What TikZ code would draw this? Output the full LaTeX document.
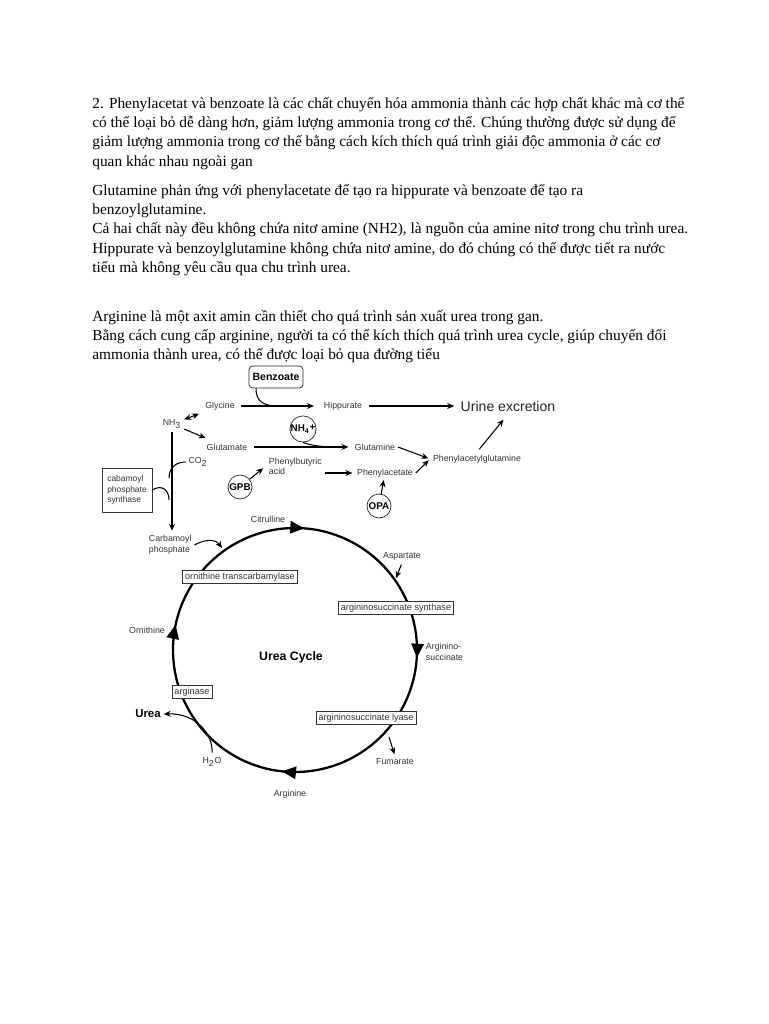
\documentclass[tikz,border=0pt]{standalone}
\usepackage{fontspec}
\setmainfont{Liberation Serif}
\setsansfont{Liberation Sans}
\usetikzlibrary{arrows.meta,decorations.markings}

\begin{document}
\begin{tikzpicture}[x=0.02cm, y=-0.02cm,
    every node/.style={font=\sffamily\fontsize{5}{6}\selectfont, text=black!80, inner sep=1.5pt},
    bodytext/.style={font=\rmfamily\fontsize{8.75}{10.95}\selectfont, text=black, anchor=north west, align=left, inner sep=0pt},
    enzbox/.style={draw=black!80, fill=white, inner sep=1.4pt, font=\sffamily\fontsize{5.2}{6}\selectfont},
    drugcirc/.style={draw=black!85, circle, minimum size=0.48cm, inner sep=0pt, text=black, font=\sffamily\bfseries\fontsize{5.6}{6}\selectfont},
    flowarrow/.style={-{Stealth[length=4pt,width=3.4pt]}, semithick},
    cyclepath/.style={line width=1.3pt, postaction=decorate, decoration={markings,
        mark=at position 0.026 with {\arrow{Triangle[length=8pt,width=7pt]}},
        mark=at position 0.274 with {\arrow{Triangle[length=8pt,width=7pt]}},
        mark=at position 0.531 with {\arrow{Triangle[length=8pt,width=7pt]}},
        mark=at position 0.797 with {\arrow{Triangle[length=8pt,width=7pt]}}}},
]
\useasboundingbox[fill=white] (0,0) rectangle (768,1024);

% Text above the picture
\node[bodytext] (para1) at (92,97) {2. Phenylacetat và benzoate là các chất chuyển hóa ammonia thành các hợp chất khác mà cơ thể\\
có thể loại bỏ dễ dàng hơn, giảm lượng ammonia trong cơ thể. Chúng thường được sử dụng để\\
giảm lượng ammonia trong cơ thể bằng cách kích thích quá trình giải độc ammonia ở các cơ\\
quan khác nhau ngoài gan};
\node[bodytext] (para2) at (92,184) {Glutamine phản ứng với phenylacetate để tạo ra hippurate và benzoate để tạo ra\\
benzoylglutamine.\\
Cả hai chất này đều không chứa nitơ amine (NH2), là nguồn của amine nitơ trong chu trình urea.\\
Hippurate và benzoylglutamine không chứa nitơ amine, do đó chúng có thể được tiết ra nước\\
tiểu mà không yêu cầu qua chu trình urea.};
\node[bodytext] (para3) at (92,310) {Arginine là một axit amin cần thiết cho quá trình sản xuất urea trong gan.\\
Bằng cách cung cấp arginine, người ta có thể kích thích quá trình urea cycle, giúp chuyển đổi\\
ammonia thành urea, có thể được loại bỏ qua đường tiểu};

% Top pathway
\node[draw=black!85, rounded corners=2pt, minimum width=1.08cm, minimum height=0.44cm, text=black, font=\sffamily\bfseries\fontsize{6}{7}\selectfont] (benz) at (276,377) {Benzoate};
\node (nh3) at (172,424) {NH\textsubscript{3}};
\node (gly) at (220,406) {Glycine};
\node (glu) at (227,447) {Glutamate};
\node (hip) at (343,406) {Hippurate};
\node[font=\sffamily\fontsize{8}{9}\selectfont, text=black!85] (urine) at (508,406) {Urine excretion};
\node (gln) at (375,447) {Glutamine};
\node (pag) at (477,459) {Phenylacetylglutamine};
\node[anchor=west, align=left, font=\sffamily\fontsize{5}{5.8}\selectfont] (pba) at (266,466) {Phenylbutyric\\acid};
\node (pa) at (385,473) {Phenylacetate};
\node (co2) at (198,462) {CO\textsubscript{2}};
\node[drugcirc] (nh4) at (303,429) {NH\textsubscript{4}\raisebox{0.25ex}{+}};
\node[drugcirc] (gpb) at (240,487) {GPB};
\node[drugcirc] (opa) at (379,506) {OPA};
\node[enzbox, align=left, minimum width=1cm, minimum height=0.88cm, font=\sffamily\fontsize{4.8}{6}\selectfont] (cps) at (127,490) {cabamoyl\\phosphate\\synthase};
\node[anchor=west, align=left, font=\sffamily\fontsize{5}{6.2}\selectfont] (cp) at (146,545) {Carbamoyl\\phosphate};

\coordinate (j1) at (169,478);
\coordinate (j2) at (169,500);
\coordinate (j3) at (278,406);
\coordinate (j4) at (342,447);

\draw[flowarrow, {Stealth[length=4pt,width=3.4pt]}-{Stealth[length=4pt,width=3.4pt]}, shorten >=2pt] (nh3) -- (gly);
\draw[flowarrow, shorten >=4pt] (nh3) -- (glu);
\draw[flowarrow, shorten >=4pt, shorten <=2pt] (gly) -- (hip);
\draw[flowarrow, shorten >=2pt, shorten <=2pt] (hip) -- (urine);
\draw[flowarrow, shorten >=2pt, shorten <=2pt] (glu) -- (gln);
\draw[flowarrow, shorten >=1pt] (gln.east) -- (pag.west);
\draw[flowarrow, shorten >=1pt] (pa.east) -- (pag.west);
\draw[flowarrow, shorten >=4pt, shorten <=2pt] (pag.north) -- (urine.south);
\draw[flowarrow, shorten >=2pt] (gpb) -- (pba.west);
\draw[flowarrow, shorten >=1pt] (pba.east |- pa.west) -- (pa.west);
\draw[flowarrow] (opa) -- (pa);
\draw[flowarrow, shorten >=1pt] (nh3) -- (nh3 |- cp.north);
\draw[semithick] (benz.south) ++(-20,0) .. controls +(0,12) and (262,406) .. (j3);
\draw[semithick] (nh4.south) .. controls (315,447) and (330,447) .. (j4);
\draw[semithick] (co2.west) .. controls (178,462) and (169,466) .. (j1);
\draw[semithick] (cps.east) .. controls (162,484) and (169,490) .. (j2);

% Urea cycle
\coordinate (cen) at (295,650);
\draw[cyclepath] (cen) ++(265:122) arc[start angle=265, end angle=625, radius=122];

\node[font=\sffamily\bfseries\fontsize{7}{8}\selectfont, text=black] (cyc) at (291,657) {Urea Cycle};
\node (cit) at (268,519) {Citrulline};
\node (asp) at (402,556) {Aspartate};
\node[anchor=west, align=left, font=\sffamily\fontsize{5}{6}\selectfont] (asa) at (423,652) {Arginino-\\succinate};
\node (fum) at (395,762) {Fumarate};
\node (arg) at (290,794) {Arginine};
\node (h2o) at (212,762) {H\textsubscript{2}O};
\node[font=\sffamily\bfseries\fontsize{6.5}{7}\selectfont, text=black] (urea) at (148,714) {Urea};
\node (orn) at (147,630) {Ornithine};
\node[enzbox] (otc) at (240,577) {ornithine transcarbamylase};
\node[enzbox] (ass) at (396,608) {argininosuccinate synthase};
\node[enzbox] (asl) at (366,718) {argininosuccinate lyase};
\node[enzbox] (argase) at (192,692) {arginase};

\coordinate (j5) at (222,548);
\coordinate (j6) at (396,578);
\coordinate (j7) at (389,737);

\draw[flowarrow] (cp.east) .. controls (209,537) and (217,541) .. (j5);
\draw[flowarrow, shorten <=1pt] (asp.south) -- (j6);
\draw[flowarrow, shorten >=1pt] (j7) -- (fum.north);
\draw[flowarrow, shorten <=1pt] (h2o.north) .. controls (213,735) and (197,713) .. (urea.east);
\end{tikzpicture}
\end{document}
